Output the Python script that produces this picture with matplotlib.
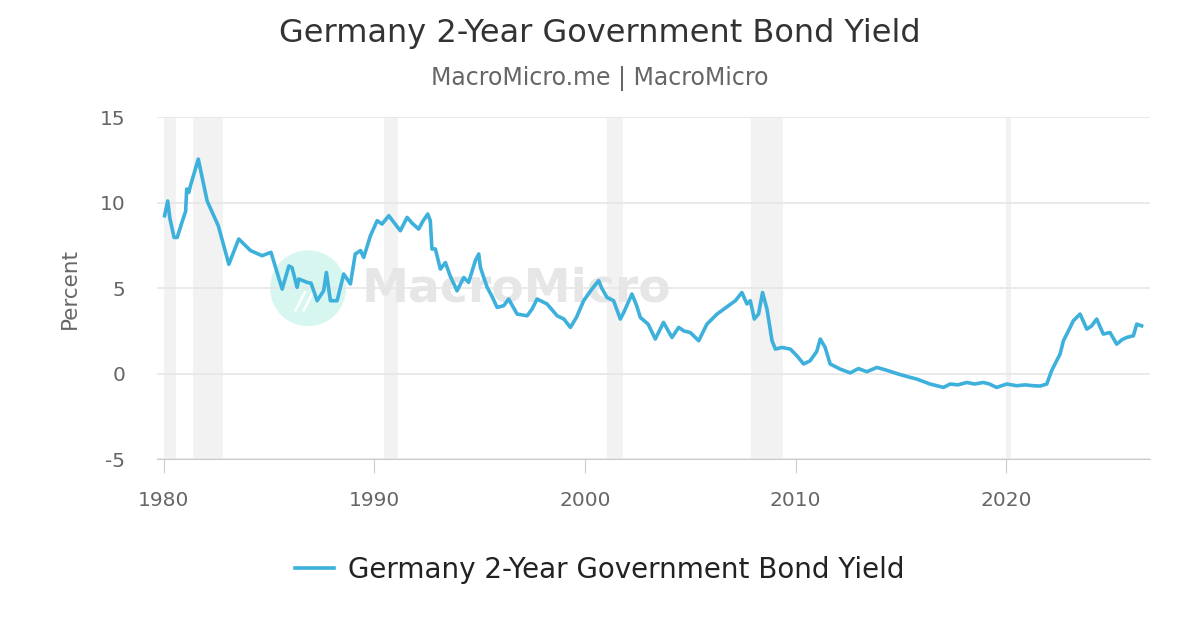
import matplotlib.pyplot as plt
from matplotlib.patches import Ellipse

plt.rcParams["axes.unicode_minus"] = False

# values (year as decimal, yield in %)
years = [
    1980.05, 1980.2, 1980.3, 1980.5, 1980.65, 1980.9, 1981.05, 1981.1, 1981.2, 1981.28,
    1981.65, 1982.07, 1982.6, 1983.1, 1983.57, 1984.13, 1984.68, 1985.1, 1985.63, 1985.95,
    1986.1, 1986.34, 1986.42, 1986.82, 1987.0, 1987.29, 1987.6, 1987.73, 1987.92, 1988.24,
    1988.55, 1988.87, 1989.1, 1989.35, 1989.5, 1989.82, 1990.14, 1990.37, 1990.69, 1990.9,
    1991.24, 1991.56, 1991.8, 1992.11, 1992.3, 1992.54, 1992.66, 1992.74, 1992.9, 1993.14,
    1993.38, 1993.6, 1993.93, 1994.25, 1994.48, 1994.8, 1994.96, 1995.04, 1995.36, 1995.6,
    1995.83, 1996.15, 1996.38, 1996.78, 1997.26, 1997.5, 1997.73, 1998.2, 1998.68, 1999.0,
    1999.31, 1999.6, 1999.94, 2000.3, 2000.65, 2000.8, 2001.05, 2001.36, 2001.68, 2001.85,
    2002.23, 2002.45, 2002.63, 2003.0, 2003.34, 2003.73, 2004.13, 2004.45, 2004.7, 2005.0,
    2005.4, 2005.79, 2006.27, 2006.82, 2007.14, 2007.45, 2007.69, 2007.85, 2008.04, 2008.24,
    2008.43, 2008.64, 2008.88, 2009.04, 2009.35, 2009.75, 2010.06, 2010.38, 2010.69, 2011.0,
    2011.17, 2011.4, 2011.64, 2012.12, 2012.59, 2012.98, 2013.38, 2013.86, 2014.33, 2014.96,
    2015.4, 2015.75, 2016.38, 2017.02, 2017.33, 2017.7, 2018.12, 2018.5, 2018.91, 2019.2,
    2019.54, 2020.02, 2020.49, 2020.9, 2021.28, 2021.6, 2021.92, 2022.15, 2022.39, 2022.55,
    2022.71, 2023.03, 2023.18, 2023.5, 2023.82, 2024.05, 2024.29, 2024.6, 2024.92, 2025.24,
    2025.5, 2025.71, 2026.03, 2026.19, 2026.42,
]
yields = [
    9.24, 10.1, 9.1, 7.97, 7.97, 8.95, 9.5, 10.8, 10.6, 11.0,
    12.55, 10.1, 8.65, 6.4, 7.88, 7.2, 6.9, 7.1, 4.95, 6.3,
    6.2, 5.05, 5.54, 5.34, 5.3, 4.27, 4.85, 5.92, 4.27, 4.27,
    5.83, 5.25, 7.0, 7.2, 6.8, 8.07, 8.95, 8.75, 9.24, 8.9,
    8.36, 9.14, 8.8, 8.46, 8.9, 9.34, 8.95, 7.29, 7.3, 6.12,
    6.5, 5.73, 4.85, 5.63, 5.34, 6.61, 7.0, 6.21, 5.05, 4.5,
    3.88, 3.98, 4.37, 3.49, 3.39, 3.8, 4.37, 4.08, 3.39, 3.2,
    2.71, 3.3, 4.27, 4.9, 5.44, 5.0, 4.46, 4.27, 3.2, 3.6,
    4.66, 4.0, 3.29, 2.9, 2.03, 3.0, 2.12, 2.71, 2.5, 2.41,
    1.93, 2.9, 3.49, 3.98, 4.27, 4.75, 4.08, 4.27, 3.2, 3.49,
    4.75, 3.78, 1.93, 1.44, 1.54, 1.44, 1.05, 0.57, 0.76, 1.3,
    2.03, 1.54, 0.57, 0.27, 0.05, 0.3, 0.12, 0.37, 0.2, -0.05,
    -0.2, -0.31, -0.6, -0.8, -0.6, -0.65, -0.51, -0.6, -0.51, -0.6,
    -0.8, -0.6, -0.7, -0.65, -0.7, -0.72, -0.6, 0.18, 0.76, 1.15,
    1.93, 2.71, 3.1, 3.49, 2.61, 2.8, 3.2, 2.32, 2.41, 1.73,
    2.0, 2.12, 2.22, 2.9, 2.8,
]

# recession periods (shaded)
rec_start = [1980.0, 1981.4, 1990.45, 2001.05, 2007.9, 2020.0]
rec_end = [1980.6, 1982.8, 1991.15, 2001.8, 2009.4, 2020.2]

fig = plt.figure(figsize=(12, 6.3), dpi=100)
ax = fig.add_axes([0.131, 0.271, 0.827, 0.543])

for s, e in zip(rec_start, rec_end):
    ax.axvspan(s, e, color="#f2f2f2", zorder=0, lw=0)

ax.set_xlim(1979.7, 2026.8)
ax.set_ylim(-5, 15)
ax.set_yticks([-5, 0, 5, 10, 15])
ax.set_xticks([1980, 1990, 2000, 2010, 2020])
ax.grid(axis="y", color="#e6e6e6", lw=1.2, zorder=1)
for sp in ["top", "right", "left"]:
    ax.spines[sp].set_visible(False)
ax.spines["bottom"].set_color("#cccccc")
ax.tick_params(axis="y", length=0, labelsize=14.5, labelcolor="#666666", pad=23)
ax.tick_params(axis="x", length=10, color="#cccccc", labelsize=14.5,
               labelcolor="#666666", pad=13)
ax.set_ylabel("Percent", fontsize=15.5, color="#666666", labelpad=14)

# watermark
wm = Ellipse((0.152, 0.5), 0.0766, 0.222, transform=ax.transAxes,
             color="#d6f6ef", zorder=1, lw=0)
ax.add_patch(wm)
ax.text(0.148, 0.46, "//", transform=ax.transAxes, color="white", fontsize=18,
        fontweight="bold", ha="center", va="center", zorder=1, style="italic")
ax.text(0.206, 0.497, "MacroMicro", transform=ax.transAxes, color="#e6e6e6",
        fontsize=34, fontweight="bold", ha="left", va="center", zorder=1)

ax.plot(years, yields, color="#3db0dc", lw=2.6, zorder=3,
        label="Germany 2-Year Government Bond Yield")

fig.text(0.5, 0.947, "Germany 2-Year Government Bond Yield", ha="center",
         va="center", fontsize=23, color="#333333")
fig.text(0.5, 0.876, "MacroMicro.me | MacroMicro", ha="center", va="center",
         fontsize=17, color="#666666")

leg = fig.legend(loc="center", bbox_to_anchor=(0.5, 0.095), frameon=False,
                 fontsize=20, handlelength=1.4, handletextpad=0.5)
for t in leg.get_texts():
    t.set_color("#222222")

fig.savefig("out.png", dpi=100)
